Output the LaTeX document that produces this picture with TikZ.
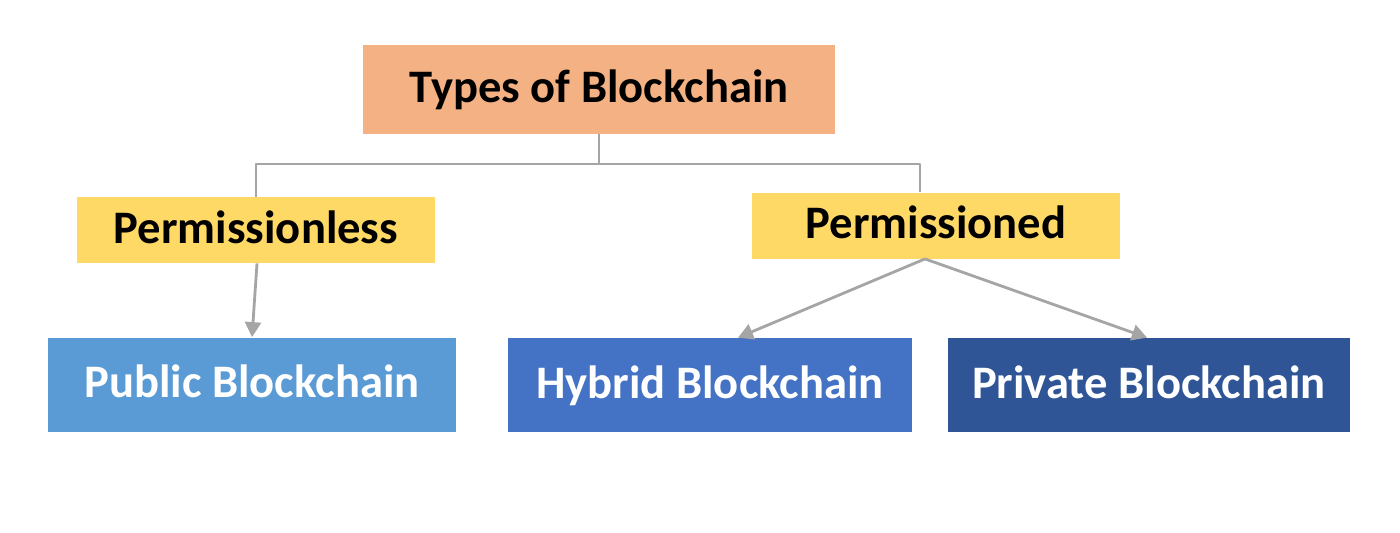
\documentclass[tikz,border=0pt]{standalone}
\usepackage{fontspec}
\setmainfont{Carlito}
\usepackage{xcolor}
\usepackage{tikz}
\usetikzlibrary{arrows.meta,positioning}
\definecolor{bcPeach}{HTML}{F4B183}
\definecolor{bcGold}{HTML}{FFD966}
\definecolor{bcSky}{HTML}{5B9BD5}
\definecolor{bcBlue}{HTML}{4472C4}
\definecolor{bcNavy}{HTML}{2F5597}
\definecolor{bcLine}{HTML}{A5A5A5}
\tikzset{
  bc diagram/.style={font=\fontsize{23.3}{26}\selectfont\bfseries,
    line join=round},
  bc box/.style={draw=none, inner sep=0pt, align=center,
    text height=15pt, text depth=2pt},
  bc head/.style={bc box, fill=bcPeach, text=black,
    minimum width=236pt, minimum height=44.5pt},
  bc kind/.style={bc box, fill=bcGold, text=black, minimum height=33pt},
  bc leaf/.style={bc box, text=white, minimum height=47pt},
  bc link/.style={draw=bcLine, line width=1pt},
  bc arrow/.style={-{Triangle[length=7.5pt,width=8pt]}, draw=bcLine,
    line width=1.4pt}
}
\begin{document}
\begin{tikzpicture}[bc diagram,x=0.5pt,y=-0.5pt]
\useasboundingbox[fill=white] (0,0) rectangle (1400,532);
\node[bc head] (types) at (599,89.5) {Types of Blockchain};
\node[bc kind,minimum width=179pt] (permless) at (256,230) {Permissionless};
\node[bc kind,minimum width=184pt] (permed) at (936,225.5) {Permissioned};
\node[bc leaf,fill=bcSky,minimum width=204pt] (public) at (252,384.5) {Public Blockchain};
\node[bc leaf,fill=bcBlue,minimum width=202pt] (hybrid) at (710,385) {Hybrid Blockchain};
\node[bc leaf,fill=bcNavy,minimum width=201pt] (private) at (1149,385) {Private Blockchain};
% tree from the head down to the two kinds
\draw[bc link] (types.south) -- ++(0,30) coordinate (split);
\draw[bc link] (split) -| (permless.north);
\draw[bc link] (split) -| ([xshift=-8pt]permed.north);
% kinds to blockchains
\draw[bc arrow] ([xshift=0.5pt]permless.south) -- (public.north);
\draw[bc arrow] ([xshift=-5.5pt]permed.south) -- ([xshift=14pt]hybrid.north);
\draw[bc arrow] ([xshift=-5.5pt]permed.south) -- ([xshift=-1pt]private.north);
\end{tikzpicture}
\end{document}
